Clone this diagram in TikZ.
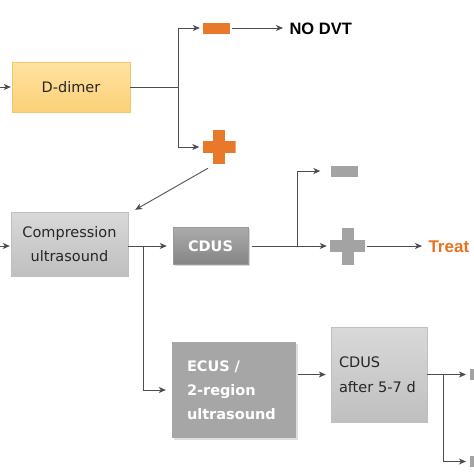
\documentclass[tikz,border=0pt]{standalone}
\usepackage{fontspec}
\setmainfont{DejaVu Sans}
\newfontfamily\arialfont{Liberation Sans}
\usepackage{xcolor}
\usepackage{tikz}
\usetikzlibrary{arrows.meta}
\usetikzlibrary{shadows}

\definecolor{flowline}{HTML}{4D4D4D}
\definecolor{signorange}{HTML}{E8792B}
\definecolor{treatorange}{HTML}{E8731F}
\definecolor{signgray}{HTML}{A3A3A3}
\definecolor{ddtop}{HTML}{FFE3A0}
\definecolor{ddbot}{HTML}{FBD078}
\definecolor{ddedge}{HTML}{F3C66C}

\begin{document}
\begin{tikzpicture}[x=1pt,y=-1pt,
    flow/.style={draw=flowline, line width=0.9pt},
    arr/.style={flow, -{Stealth[length=7pt,width=6pt,inset=2pt]}, shorten >=3pt},
    boxtext/.style={font=\fontsize{14.5}{24.5}\selectfont},
    minussign/.style={fill=#1, inner sep=0, minimum width=27pt, minimum height=11pt},
    plussign/.style={inner sep=0, minimum width=33pt, minimum height=34pt,
      path picture={
        \fill[#1] ([xshift=-6pt]path picture bounding box.north) rectangle ([xshift=6pt]path picture bounding box.south);
        \fill[#1] ([yshift=6pt]path picture bounding box.west) rectangle ([yshift=-6pt]path picture bounding box.east);
      }},
    lightbox/.style={boxtext, text=black!85, draw=black!25, top color=black!15, bottom color=black!25}]
    \useasboundingbox (0,0) rectangle (474,474);
    %
    \node[boxtext, text=black!85, draw=ddedge, top color=ddtop, bottom color=ddbot,
      minimum width=118pt, minimum height=50pt] (ddimer) at (71,87) {D-dimer};
    \node[minussign=signorange] (minusD) at (216.5,28) {};
    \node[anchor=west, font=\arialfont\bfseries\fontsize{16.5}{18}\selectfont] (nodvt) at (286,29) {NO DVT};
    \node[plussign=signorange] (plusD) at (219,147) {};
    %
    \node[lightbox, align=center, minimum width=117pt, minimum height=64pt] (comp) at (69.5,244)
      {Compression\\ultrasound};
    \node[boxtext, font=\bfseries\fontsize{14.5}{17}\selectfont, text=white, draw=black!40,
      top color=black!33, bottom color=black!48, minimum width=75pt, minimum height=37pt,
      drop shadow={opacity=0.3, shadow xshift=1.5pt, shadow yshift=-1.5pt}] (cdus) at (210.5,246) {CDUS};
    \node[minussign=signgray] (minusC) at (344,171) {};
    \node[plussign=signgray, minimum width=35pt, minimum height=37pt] (plusC) at (347.5,246) {};
    \node[anchor=west, text=treatorange, font=\arialfont\bfseries\fontsize{17}{18}\selectfont] (treat) at (425,247) {Treat};
    %
    \node[boxtext, font=\bfseries\fontsize{14.5}{24}\selectfont, text=white, fill=black!35,
      text width=94pt, inner xsep=15pt, align=left, minimum height=96pt,
      drop shadow={opacity=0.25, shadow xshift=1.5pt, shadow yshift=-1.5pt}] (ecus) at (234,390)
      {ECUS /\\2-region\\ultrasound};
    \node[lightbox, text width=80pt, inner xsep=8pt, align=left, minimum height=95pt] (cdusl) at (379,374.5)
      {CDUS\\after 5-7 d};
    \node[fill=signgray, inner sep=0, minimum width=4pt, minimum height=11pt, anchor=west] (stubA) at (470,374.5) {};
    \node[fill=signgray, inner sep=0, minimum width=4pt, minimum height=11pt, anchor=west] (stubB) at (470,461.5) {};
    %
    \coordinate (inD) at (0,87);
    \coordinate (inC) at (0,246);
    \coordinate (splitD) at (178.5,87);
    \coordinate (splitC) at (143.5,246);
    \coordinate (splitU) at (297,246);
    \coordinate (splitL) at (443,374.5);
    %
    \draw[arr, shorten >=1pt] (inD) -- (ddimer.west);
    \draw[arr, shorten >=1pt] (inC) -- (comp.west |- inC);
    \draw[flow] (ddimer.east) -- (splitD);
    \draw[arr] (splitD |- minusD) -- (splitD |- plusD) -- (plusD.west);
    \draw[arr] (splitD |- minusD) -- (minusD.west);
    \draw[arr, shorten <=2pt] (minusD.east) -- (nodvt.west |- minusD);
    \draw[arr, shorten <=8pt, shorten >=0pt] ([xshift=-4pt]plusD.south) -- ([xshift=7pt,yshift=2pt]comp.north east);
    %
    \draw[arr, shorten >=6pt] (comp.east |- splitC) -- (cdus.west |- splitC);
    \draw[arr, shorten >=6pt] (splitC) |- (ecus.west);
    \draw[arr, shorten <=4pt] (cdus.east) -- (plusC.west);
    \draw[arr, shorten >=10pt] (splitU) |- (minusC.west);
    \draw[arr, shorten <=2pt] (plusC.east) -- (treat.west |- plusC);
    %
    \draw[arr, shorten <=2pt, shorten >=5pt] (ecus.east |- cdusl) -- (cdusl.west);
    \draw[flow] (cdusl.east) -- (splitL);
    \draw[arr, shorten >=4pt] (splitL) -- (stubA.west);
    \draw[arr, shorten >=4pt] (splitL) |- (stubB.west);
\end{tikzpicture}
\end{document}
